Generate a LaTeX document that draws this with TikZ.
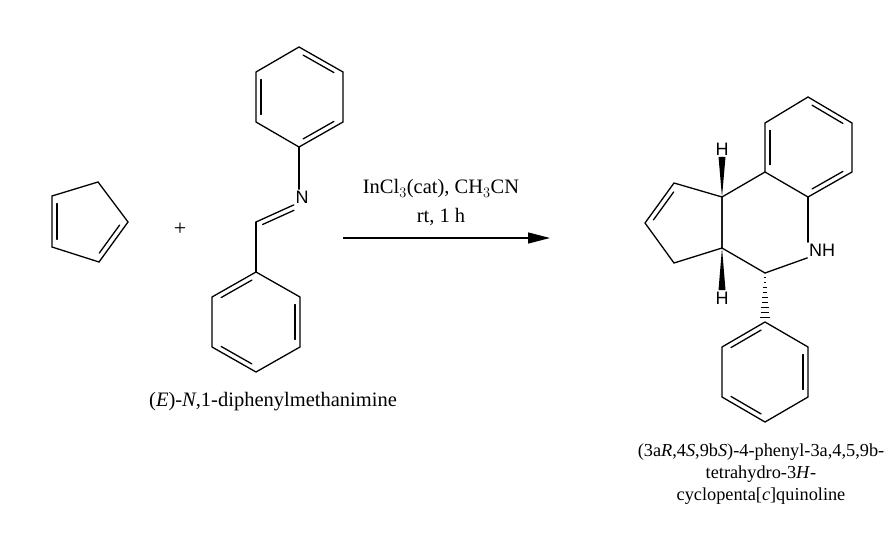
\documentclass[tikz,border=0pt]{standalone}
\usepackage{fontspec}
\setmainfont{Liberation Serif}
\newfontfamily\atomfont{Liberation Sans}
\usetikzlibrary{calc,arrows.meta}
\newcommand{\db}[2]{\draw[bond] ($(#1)!0.15!(#2)!5pt!-90:(#2)$) -- ($(#2)!0.15!(#1)!5pt!90:(#1)$);}
\begin{document}
\begin{tikzpicture}[x=1pt,y=-1pt,
  bond/.style={line width=1.3pt,line cap=round},
  atom/.style={font=\atomfont\fontsize{18}{18}\selectfont,inner sep=1.5pt},
  lbl/.style={font=\fontsize{20.5}{22}\selectfont,align=center}]
\useasboundingbox (0,0) rectangle (890,532);
% cyclopentadiene
\coordinate (p1) at (98,182); \coordinate (p2) at (128,222); \coordinate (p3) at (99,262);
\coordinate (p4) at (52,247); \coordinate (p5) at (52,196);
\draw[bond] (p1)--(p2)--(p3)--(p4)--(p5)--cycle;
\db{p2}{p3} \db{p4}{p5}
\node[font=\fontsize{22}{22}\selectfont] (plus) at (180,229) {+};
% imine
\coordinate (a1) at (299,47); \coordinate (a2) at (343,72); \coordinate (a3) at (343,122);
\coordinate (a4) at (299,147); \coordinate (a5) at (256,122); \coordinate (a6) at (256,72);
\draw[bond] (a1)--(a2)--(a3)--(a4)--(a5)--(a6)--cycle;
\db{a1}{a2} \db{a3}{a4} \db{a5}{a6}
\node[atom] (N) at (302,197) {N};
\coordinate (ci) at (256,222);
\draw[bond] (a4)--(N.north-|a4);
\draw[bond] (ci)--(N.south west);
\draw[bond] ($(ci)!0.12!(N.south west)!5pt!-90:(N.south west)$)--($(N.south west)!0.05!(ci)!5pt!90:(ci)$);
\coordinate (b1) at (256,272); \coordinate (b2) at (300,297); \coordinate (b3) at (300,347);
\coordinate (b4) at (256,372); \coordinate (b5) at (212,347); \coordinate (b6) at (212,297);
\draw[bond] (ci)--(b1);
\draw[bond] (b1)--(b2)--(b3)--(b4)--(b5)--(b6)--cycle;
\db{b2}{b3} \db{b4}{b5} \db{b6}{b1}
\node[lbl] (l1) at (273,402) {(\textit{E})-\textit{N},1-diphenylmethanimine};
% arrow
\coordinate (ar1) at (343,238); \coordinate (ar2) at (550,238);
\draw[line width=1.3pt,-{Triangle[length=22pt,width=11pt]}] (ar1)--(ar2);
\node[lbl] (c1) at (441,189) {InCl$_3$(cat), CH$_3$CN};
\node[lbl] (c2) at (441,217) {rt, 1 h};
% product
\coordinate (q1) at (808,97); \coordinate (q2) at (852,123); \coordinate (q3) at (852,172);
\coordinate (q4) at (808,197); \coordinate (q5) at (765,172); \coordinate (q6) at (765,123);
\draw[bond] (q1)--(q2)--(q3)--(q4)--(q5)--(q6)--cycle;
\db{q1}{q2} \db{q3}{q4} \db{q5}{q6}
\coordinate (c9b) at (722,197); \coordinate (c1p) at (674,183); \coordinate (c2p) at (645,223);
\coordinate (c3p) at (674,263); \coordinate (c3a) at (722,248); \coordinate (c4) at (765,273);
\node[atom] (NH) at (822,250) {NH};
\draw[bond] (q5)--(c9b)--(c3a)--(c4);
\draw[bond] (c4)--(NH.south west);
\draw[bond] (q4)--(NH.north-|q4);
\draw[bond] (c9b)--(c3a)--(c3p)--(c2p)--(c1p)--cycle;
\db{c2p}{c1p}
\node[atom] (H1) at (722,149) {H};
\node[atom] (H2) at (722,298) {H};
\fill (c9b) -- ([xshift=-3.5pt]H1.south) -- ([xshift=3.5pt]H1.south) -- cycle;
\fill (c3a) -- ([xshift=-3.5pt]H2.north) -- ([xshift=3.5pt]H2.north) -- cycle;
\coordinate (r1) at (765,322); \coordinate (r2) at (808,347); \coordinate (r3) at (808,397);
\coordinate (r4) at (765,422); \coordinate (r5) at (722,397); \coordinate (r6) at (722,347);
\foreach \i in {1,...,9}{
  \pgfmathsetmacro{\w}{0.5+0.45*\i}
  \draw[line width=1pt] ($(c4)!\i/10!(r1)+(-\w,0)$)--($(c4)!\i/10!(r1)+(\w,0)$);
}
\draw[bond] (r1)--(r2)--(r3)--(r4)--(r5)--(r6)--cycle;
\db{r2}{r3} \db{r4}{r5} \db{r6}{r1}
\node[lbl,font=\fontsize{18.3}{22}\selectfont] (l2) at (761,474) {(3a\textit{R},4\textit{S},9b\textit{S})-4-phenyl-3a,4,5,9b-\\tetrahydro-3\textit{H}-\\cyclopenta[\textit{c}]quinoline};
\end{tikzpicture}
\end{document}
